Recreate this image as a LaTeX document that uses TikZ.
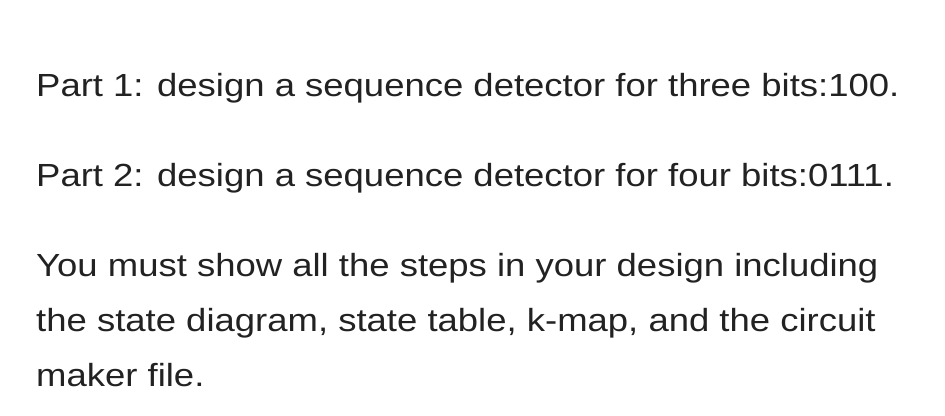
\documentclass[tikz,border=0pt]{standalone}
\usepackage{fontspec}
\setmainfont[FakeStretch=1.14]{Liberation Sans}
\definecolor{txt}{HTML}{222222}
\tikzset{line/.style={anchor=base west,inner sep=0pt,text=txt,font=\fontsize{32}{36}\selectfont}}
\begin{document}
\begin{tikzpicture}[x=1pt,y=-1pt]
\useasboundingbox[fill=white] (0,0) rectangle (945,415);
\node[line] (l1) at (36,96) {Part 1: design a sequence detector for three bits:100.};
\node[line] (l2) at (36,186) {Part 2: design a sequence detector for four bits:0111.};
\node[line] (l3) at (36,276) {You must show all the steps in your design including};
\node[line] (l4) at (36,331) {the state diagram, state table, k-map, and the circuit};
\node[line] (l5) at (36,386) {maker file.};
\end{tikzpicture}
\end{document}
